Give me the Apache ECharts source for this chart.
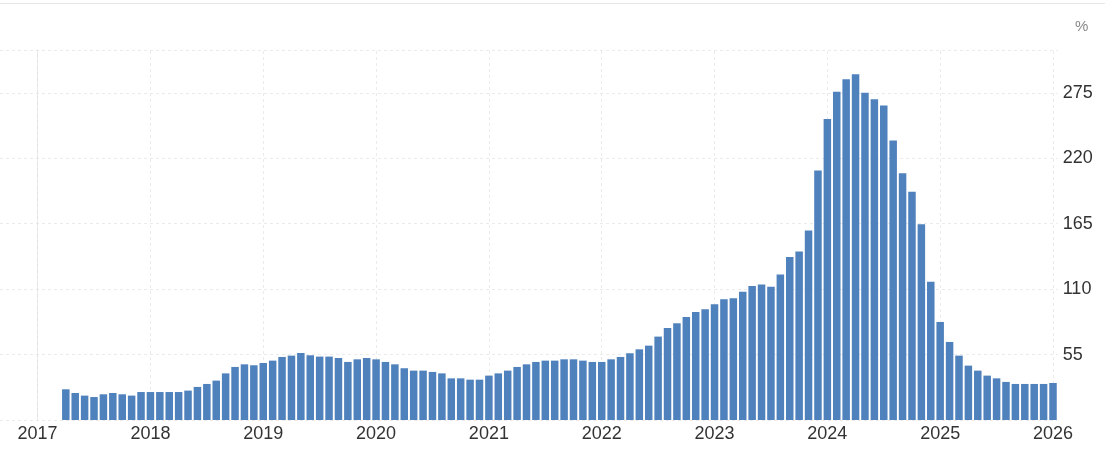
<!DOCTYPE html>
<html>
<head>
<meta charset="utf-8">
<script src="https://cdn.jsdelivr.net/npm/echarts@6/dist/echarts.min.js"></script>
<style>
html,body{margin:0;padding:0;background:#fff;}
#chart{width:1105px;height:459px;}
</style>
</head>
<body>
<div id="chart"></div>
<script>
// Monthly categories (year-month), Apr 2017 .. Jan 2026
const months = [
  '2017-04','2017-05','2017-06','2017-07','2017-08','2017-09','2017-10','2017-11','2017-12',
  '2018-01','2018-02','2018-03','2018-04','2018-05','2018-06','2018-07','2018-08','2018-09','2018-10','2018-11','2018-12',
  '2019-01','2019-02','2019-03','2019-04','2019-05','2019-06','2019-07','2019-08','2019-09','2019-10','2019-11','2019-12',
  '2020-01','2020-02','2020-03','2020-04','2020-05','2020-06','2020-07','2020-08','2020-09','2020-10','2020-11','2020-12',
  '2021-01','2021-02','2021-03','2021-04','2021-05','2021-06','2021-07','2021-08','2021-09','2021-10','2021-11','2021-12',
  '2022-01','2022-02','2022-03','2022-04','2022-05','2022-06','2022-07','2022-08','2022-09','2022-10','2022-11','2022-12',
  '2023-01','2023-02','2023-03','2023-04','2023-05','2023-06','2023-07','2023-08','2023-09','2023-10','2023-11','2023-12',
  '2024-01','2024-02','2024-03','2024-04','2024-05','2024-06','2024-07','2024-08','2024-09','2024-10','2024-11','2024-12',
  '2025-01','2025-02','2025-03','2025-04','2025-05','2025-06','2025-07','2025-08','2025-09','2025-10','2025-11','2025-12',
  '2026-01'
];
// Inflation rate, %
const inflation = [
  25.8, 22.7, 20.5, 19.3, 21.6, 22.7, 21.6, 20.5, 23.5,
  23.5, 23.5, 23.5, 23.5, 24.7, 27.8, 30.3, 33.1, 39.2, 44.6, 46.8, 46.0,
  47.9, 49.9, 53.0, 54.1, 56.3, 54.4, 53.3, 53.3, 52.1, 48.8, 51.0, 52.1,
  51.0, 48.8, 46.8, 43.5, 41.5, 41.5, 40.4, 39.2, 35.0, 35.0, 33.9, 33.9,
  37.3, 39.2, 41.5, 44.6, 46.8, 48.8, 49.9, 49.9, 51.0, 51.0, 49.9, 48.8,
  48.8, 51.0, 53.0, 56.1, 59.4, 62.5, 70.1, 77.4, 81.3, 86.6, 90.8, 93.1,
  97.3, 101.5, 102.3, 107.7, 112.7, 113.8, 111.9, 122.2, 137.1, 141.6, 159.2, 209.7,
  252.9, 275.9, 286.5, 290.7, 275.0, 269.7, 264.4, 234.9, 207.5, 191.8, 164.6, 116.1,
  82.4, 65.6, 54.1, 45.7, 41.5, 37.3, 35.0, 32.0, 30.3, 30.3, 30.3, 30.3,
  31.1
];
// Axis tick labels
const yearLabels = ['2017','2018','2019','2020','2021','2022','2023','2024','2025','2026'];
const yTicks = [55, 110, 165, 220, 275];
const unitLabel = '%';

const baseYear = Number(yearLabels[0]);
function monthIndex(s) {
  const p = s.split('-');
  return (Number(p[0]) - baseYear) * 12 + (Number(p[1]) - 1);
}
const seriesData = months.map((m, i) => [monthIndex(m), inflation[i]]);
const yearPositions = yearLabels.map(y => monthIndex(y + '-01'));

const chart = echarts.init(document.getElementById('chart'), null, {renderer: 'canvas'});
const gridColor = '#ebebeb';
const fontFamily = 'Liberation Sans, Arial, sans-serif';
chart.setOption({
  animation: false,
  backgroundColor: '#ffffff',
  grid: {left: 0, right: 47.3, top: 50, bottom: 39, containLabel: false},
  xAxis: {
    type: 'value',
    min: -4,
    max: 108.5,
    axisLine: {show: false},
    axisTick: {show: false, customValues: yearPositions},
    splitLine: {show: false},
    axisLabel: {
      show: true,
      customValues: yearPositions,
      margin: 5,
      fontSize: 18,
      fontFamily: fontFamily,
      color: '#333',
      formatter: function (v) {
        const i = yearPositions.indexOf(v);
        return i >= 0 ? yearLabels[i] : '';
      }
    }
  },
  yAxis: {
    type: 'value',
    position: 'right',
    min: 0,
    max: 311,
    interval: yTicks[1] - yTicks[0],
    axisLine: {show: true, lineStyle: {color: '#e3e3e3', width: 1}},
    axisTick: {show: false},
    splitLine: {show: true, lineStyle: {color: gridColor, width: 1, type: [3, 3]}},
    axisLabel: {
      showMinLabel: false,
      showMaxLabel: false,
      margin: 5,
      fontSize: 18,
      fontFamily: fontFamily,
      color: '#333',
      padding: [0, 0, 6, 0],
      formatter: function (v) { return yTicks.indexOf(v) >= 0 ? String(v) : ''; }
    }
  },
  graphic: [
    {type: 'line', shape: {x1: 0, y1: 3.5, x2: 1105, y2: 3.5}, style: {stroke: '#e6e6e6', lineWidth: 1}, silent: true},
    {type: 'text', left: 1075, top: 19, style: {text: unitLabel, fill: '#888', fontSize: 15, fontFamily: fontFamily}, silent: true}
  ],
  series: [{
    type: 'bar',
    data: seriesData,
    barWidth: 7.5,
    itemStyle: {color: '#4f81bd'},
    silent: true,
    z: 3,
    markLine: {
      silent: true,
      z: 1,
      symbol: ['none', 'none'],
      label: {show: false},
      lineStyle: {color: gridColor, width: 1, type: [3, 3]},
      emphasis: {disabled: true},
      data: yearPositions.map(p => ({xAxis: p}))
    }
  }]
});
</script>
</body>
</html>
